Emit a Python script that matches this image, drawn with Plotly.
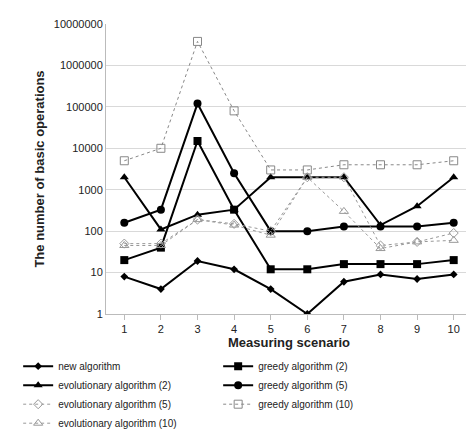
import plotly.graph_objects as go

scenarios = list(range(1, 11))
new_alg = [8, 4, 19, 12, 4, 1, 6, 9, 7, 9]
greedy2 = [20, 40, 15000, 330, 12, 12, 16, 16, 16, 20]
evo2 = [2000, 110, 250, 330, 2000, 2000, 2000, 140, 400, 2000]
greedy5 = [160, 330, 120000, 2500, 100, 100, 130, 130, 130, 160]
evo5 = [50, 50, 190, 150, 100, 2000, 2000, 45, 55, 90]
greedy10 = [5000, 10000, 3800000, 80000, 3000, 3000, 4000, 4000, 4000, 5000]
evo10 = [45, 45, 190, 140, 80, 2000, 300, 38, 55, 60]
ytick_vals = [1, 10, 100, 1000, 10000, 100000, 1000000, 10000000]

series = [
    ("new algorithm", new_alg, "black", "solid", "diamond", 6),
    ("greedy algorithm (2)", greedy2, "black", "solid", "square", 8),
    ("evolutionary algorithm (2)", evo2, "black", "solid", "triangle-up", 8),
    ("greedy algorithm (5)", greedy5, "black", "solid", "circle", 8),
    ("evolutionary algorithm (5)", evo5, "#999999", "dot", "diamond-open", 7),
    ("greedy algorithm (10)", greedy10, "#888888", "dot", "square-open", 8),
    ("evolutionary algorithm (10)", evo10, "#999999", "dot", "triangle-up-open", 8),
]
fig = go.Figure()
for name, ys, c, dash, sym, sz in series:
    fig.add_trace(go.Scatter(x=scenarios, y=ys, name=name, mode="lines+markers",
                             line=dict(color=c, dash=dash, width=2 if c == "black" else 1),
                             marker=dict(symbol=sym, size=sz, color=c)))
fig.update_layout(
    width=474, height=440, paper_bgcolor="white", plot_bgcolor="white",
    margin=dict(l=88, r=10, t=12, b=90),
    font=dict(family="Liberation Sans, Arial", size=11, color="#222"),
    xaxis=dict(title=dict(text="<b>Measuring scenario</b>", standoff=2), tickvals=scenarios,
               range=[0.5, 10.5], showgrid=False, showline=True, linecolor="#bbb",
               ticks="outside", tickcolor="#bbb"),
    yaxis=dict(title=dict(text="<b>The number of basic operations</b>", standoff=6), type="log",
               range=[0, 7], tickvals=ytick_vals, ticktext=[str(v) for v in ytick_vals],
               gridcolor="#d9d9d9", showline=True, linecolor="#bbb"),
    legend=dict(orientation="h", x=-0.24, y=-0.13, xanchor="left", yanchor="top",
                font=dict(size=10), entrywidth=155, itemwidth=30, tracegroupgap=0),
)
fig.write_html("out.html")
